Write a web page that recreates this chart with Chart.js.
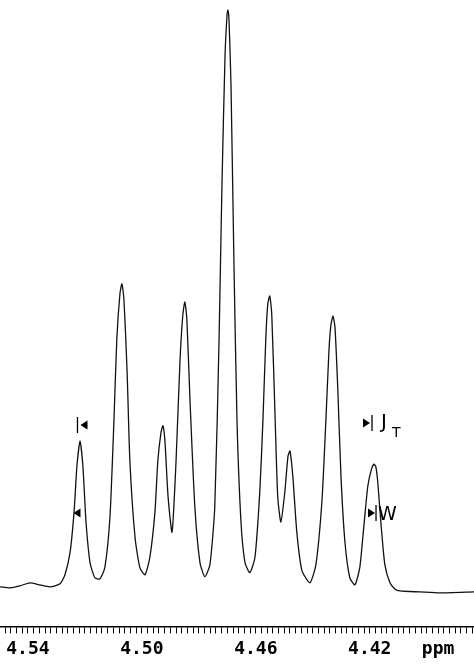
<!DOCTYPE html>
<html><head><meta charset="utf-8">
<script src="https://cdn.jsdelivr.net/npm/chart.js"></script>
<style>html,body{margin:0;padding:0;background:#fff}#w{width:474px;height:665px}</style>
</head><body><div id="w"><canvas id="c"></canvas></div>
<script>
const ppm = [4.5498,4.5463,4.5428,4.5393,4.5358,4.5323,4.5287,4.5270,4.5252,4.5238,4.5228,4.5217,4.5207,4.5196,4.5182,4.5165,4.5147,4.5130,4.5112,4.5098,4.5088,4.5077,4.5070,4.5063,4.5052,4.5042,4.5024,4.5007,4.4989,4.4972,4.4954,4.4944,4.4933,4.4926,4.4919,4.4908,4.4894,4.4880,4.4866,4.4856,4.4849,4.4842,4.4831,4.4814,4.4796,4.4779,4.4761,4.4744,4.4729,4.4719,4.4708,4.4701,4.4698,4.4694,4.4687,4.4677,4.4666,4.4652,4.4638,4.4621,4.4603,4.4586,4.4575,4.4565,4.4558,4.4551,4.4544,4.4533,4.4523,4.4512,4.4498,4.4487,4.4480,4.4470,4.4456,4.4438,4.4410,4.4389,4.4368,4.4354,4.4343,4.4336,4.4329,4.4322,4.4312,4.4301,4.4287,4.4270,4.4252,4.4235,4.4221,4.4207,4.4196,4.4186,4.4179,4.4172,4.4161,4.4147,4.4129,4.4112,4.4094,4.4024,4.3954,4.3834];
const intensity = [6,5,7,10,8,6,9,18,40,80,125,150,125,70,30,15,14,25,75,170,250,295,305,290,220,130,55,25,18,35,80,130,158,165,150,95,60,130,230,275,287,270,190,85,30,16,28,85,250,400,530,570,575,565,500,330,170,70,30,20,35,100,170,250,285,293,275,180,95,70,100,135,140,115,60,22,10,28,90,170,240,265,273,262,200,115,50,15,8,25,65,105,120,127,125,110,70,28,10,4,2,1,0,1];
const tickLabels = {"4.540":"4.54","4.500":"4.50","4.460":"4.46","4.420":"4.42","4.396":"ppm"};

const marks = {
  id:'marks',
  afterDraw(ch){
    const c=ch.ctx, x=ch.scales.x;
    c.save(); c.fillStyle='#000'; c.strokeStyle='#000'; c.lineWidth=1.3;
    function tri(px,py,dir){c.beginPath();c.moveTo(px,py);c.lineTo(px-7*dir,py-4.5);c.lineTo(px-7*dir,py+4.5);c.closePath();c.fill();}
    function bar(px,py){c.beginPath();c.moveTo(px,py-8);c.lineTo(px,py+8);c.stroke();}
    const L=x.getPixelForValue(4.5219), R=x.getPixelForValue(4.4192);
    bar(L-2,425); tri(L+1,425,-1);
    tri(L-6,513,-1);
    tri(R-2,423,1); bar(R,423);
    tri(R+3,513,1); bar(R+4,513);
    c.font='20px "DejaVu Sans"'; c.textBaseline='middle';
    c.fillText('J',R+9,423); c.font='14px "DejaVu Sans"'; c.fillText('T',R+20,433);
    c.font='19px "DejaVu Sans"'; c.fillText('W',R+6,515);
    c.restore();
  }
};
try{
new Chart(document.getElementById('c'),{
  type:'line',
  data:{datasets:[{data:ppm.map((p,i)=>({x:p,y:intensity[i]})),borderColor:'#111',borderWidth:1.3,pointRadius:0,tension:0.2,fill:false}]},
  options:{
    responsive:true,maintainAspectRatio:false,animation:false,
    layout:{padding:0},
    plugins:{legend:{display:false},tooltip:{enabled:false}},
    scales:{
      x:{type:'linear',reverse:true,min:4.3834,max:4.5498,
        afterBuildTicks(ax){const t=[];for(let k=2192;k<=2274;k++)t.push({value:k*0.002});ax.ticks=t;},
        grid:{display:true,drawOnChartArea:false,drawTicks:true,tickLength:7,color:'#000'},
        border:{display:true,color:'#000',width:1.5},
        ticks:{autoSkip:false,maxRotation:0,padding:5,color:'#000',font:{family:'"DejaVu Sans Mono"',size:18,weight:'bold'},
          callback(v){return tickLabels[(+v).toFixed(3)]||'';}}
      },
      y:{display:false,min:-33,max:585}
    }
  },
  plugins:[marks]
});
}catch(e){document.body.insertAdjacentText('afterbegin',String(e));}
</script></body></html>
